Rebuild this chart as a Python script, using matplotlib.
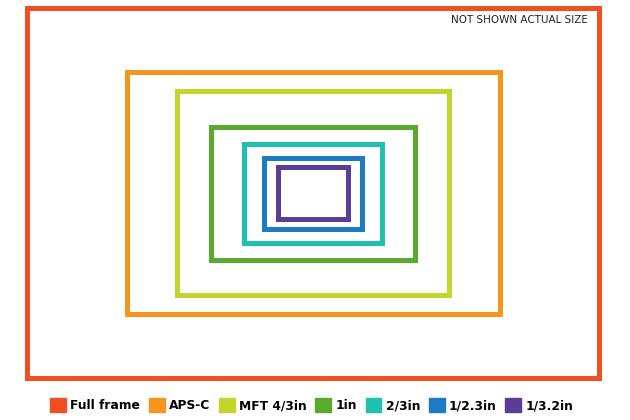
import matplotlib.pyplot as plt
from matplotlib.patches import Rectangle, Patch

# sensor outlines, in reference pixels (width, height), drawn around one centre
names = ['Full frame', 'APS-C', 'MFT 4/3in', '1in', '2/3in', '1/2.3in', '1/3.2in']
widths = [572, 373, 272, 204, 138, 98, 70]
heights = [370, 242, 204, 133, 99, 71, 52]
colors = ['#f04e23', '#f7941d', '#c3d52b', '#5aaa2e', '#1ec0b0', '#1b7cc4', '#5b3c97']
cx, cy = 313, 193

fig = plt.figure(figsize=(6.3, 4.2), dpi=100)
ax = fig.add_axes([0, 0, 1, 1])
ax.set_xlim(0, 630)
ax.set_ylim(420, 0)
ax.axis('off')

for w, h, c in zip(widths, heights, colors):
    ax.add_patch(Rectangle((cx - w / 2, cy - h / 2), w, h, fill=False,
                           edgecolor=c, linewidth=3.6, joinstyle='miter'))

ax.text(588, 20, 'NOT SHOWN ACTUAL SIZE', ha='right', va='center',
        fontsize=7.5, color='#222222')

handles = [Patch(facecolor=c, edgecolor=c) for c in colors]
leg = ax.legend(handles, names, ncol=7, loc='center', bbox_to_anchor=(0.495, 0.035),
                frameon=False, handlelength=1.3, handleheight=1.3, handletextpad=0.35,
                columnspacing=0.7, borderpad=0, prop={'weight': 'bold', 'size': 8.8})

fig.savefig('out.png', dpi=100)
